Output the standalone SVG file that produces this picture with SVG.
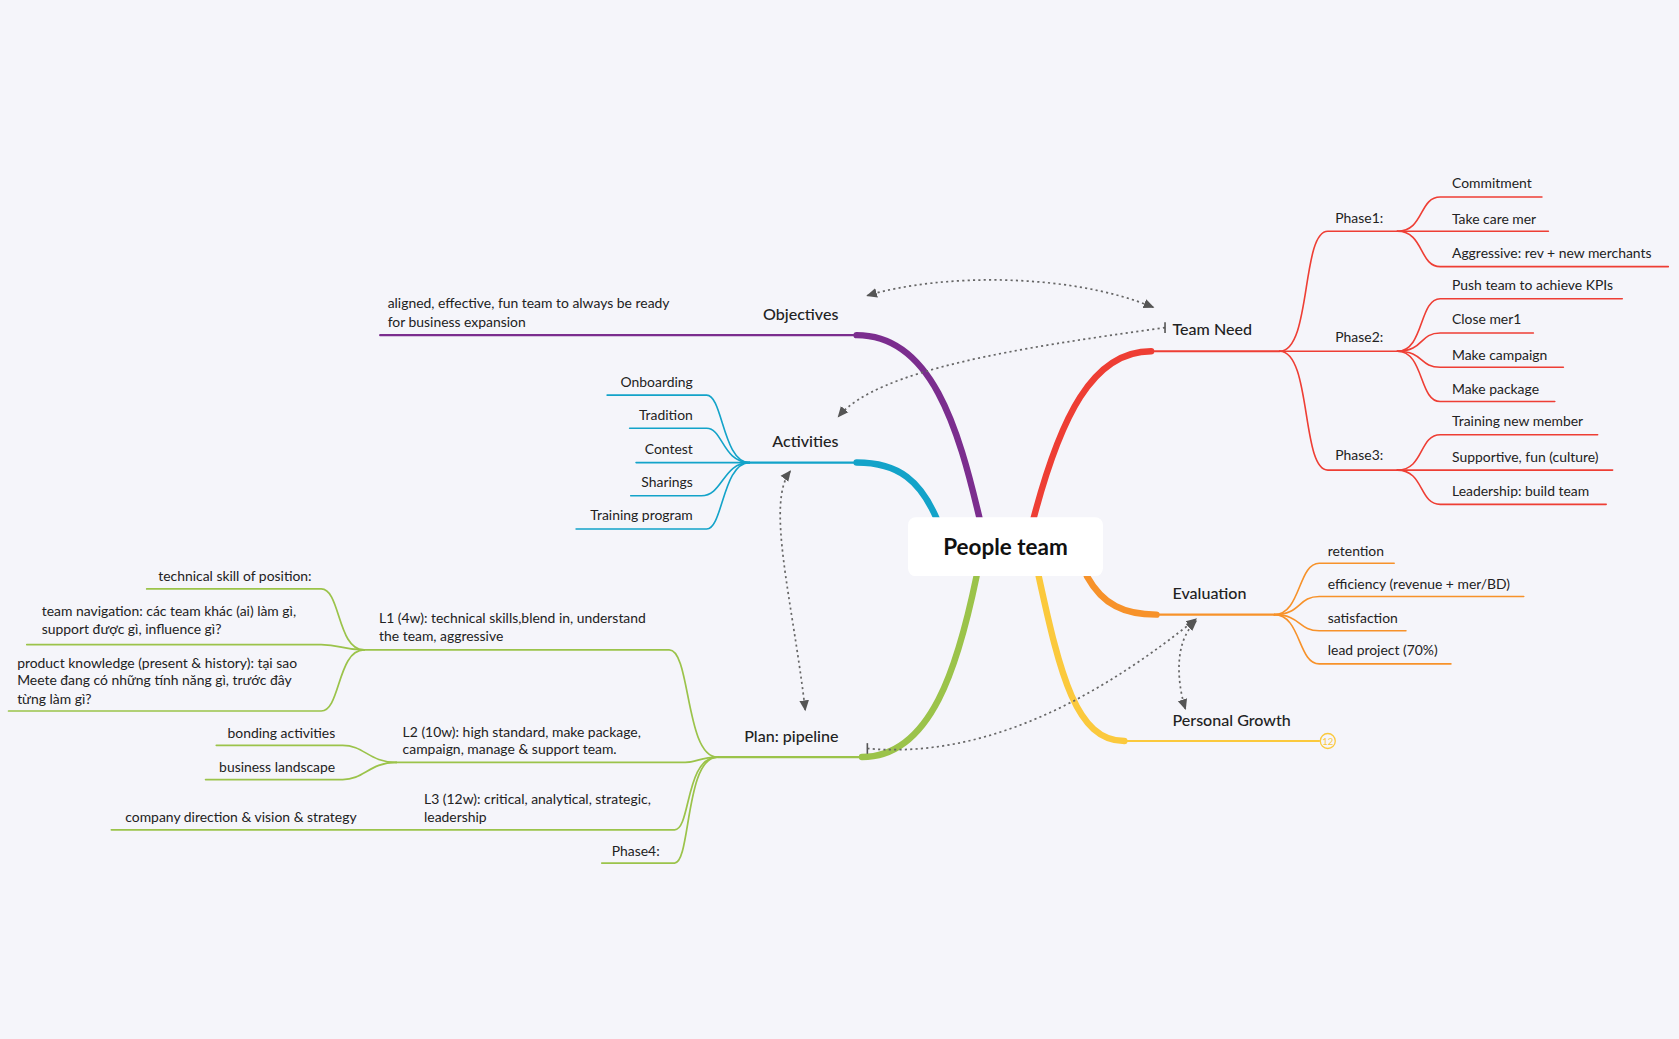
<svg xmlns="http://www.w3.org/2000/svg" width="1679" height="1039" viewBox="0 0 1679 1039">
<defs>
<style>
text{font-family:Lato,"Noto Sans","DejaVu Sans",sans-serif;font-size:13px;fill:#222}
.lbl{font-size:15px;font-weight:500}
.r{text-anchor:end}
.c{stroke-linecap:round;fill:none}
.rel{fill:none;stroke:#666;stroke-width:1.6;stroke-dasharray:2 3}
</style>
<marker id="ah" viewBox="0 0 10 10" refX="8" refY="5" markerWidth="7" markerHeight="7" orient="auto-start-reverse"><path d="M0,1 L9,5 L0,9 z" fill="#555"/></marker>
</defs>
<rect width="1679" height="1039" fill="#f5f5fa"/>
<g transform="scale(1.0708)">
<g id="connectors">
<!-- Objectives -->
<g stroke="#7b2d8e" class="c"><path d="M915,485 C895,400 870,313 800,313" stroke-width="6"/><path d="M800,313 L355,313" stroke-width="2"/></g>
<!-- Activities -->
<g stroke="#13a3c9" class="c"><path d="M875,485 C860,450 840,432 800,432" stroke-width="6"/><path d="M800,432 L700,432" stroke-width="2"/>
<g stroke-width="1.5"><path d="M700,432 C675,432 675,369 660,369 L567,369"/><path d="M700,432 C675,432 675,400 660,400 L588,400"/><path d="M700,432 L594,432"/><path d="M700,432 C675,432 675,463 655,463 L589,463"/><path d="M700,432 C675,432 675,494 660,494 L538,494"/></g></g>
<!-- Plan -->
<g stroke="#9bc34a" class="c"><path d="M912,538 C895,620 870,707 805,707" stroke-width="6"/><path d="M805,707 L670,707" stroke-width="2"/>
<g stroke-width="1.6"><path d="M670,707 C640,707 645,607 625,607 L340,607"/><path d="M670,707 C655,707 650,712 640,712 L370,712"/><path d="M670,707 C640,707 645,775 630,775 L104,775"/><path d="M670,707 C640,707 645,806 630,806 L562,806"/>
<path d="M340,607 C315,607 318,550 300,550 L137,550"/><path d="M340,607 C320,607 318,602 300,602 L25,602"/><path d="M340,607 C315,607 318,664 300,664 L8,664"/>
<path d="M370,712 C345,712 340,696 320,696 L202,696"/><path d="M370,712 C345,712 340,728 320,728 L192,728"/></g></g>
<!-- Team Need -->
<g stroke="#ee3e34" class="c"><path d="M965,485 C990,390 1020,328 1075,328" stroke-width="6"/><path d="M1075,328 L1195,328" stroke-width="2"/>
<g stroke-width="1.5"><path d="M1195,328 C1225,328 1215,216 1240,216 L1305,216"/><path d="M1195,328 L1305,328"/><path d="M1195,328 C1225,328 1215,439 1240,439 L1305,439"/>
<path d="M1305,216 C1330,216 1325,184 1345,184 L1440,184"/><path d="M1305,216 L1446,216"/><path d="M1305,216 C1330,216 1325,249 1345,249 L1558,249"/>
<path d="M1305,328 C1330,328 1325,279 1345,279 L1515,279"/><path d="M1305,328 C1330,328 1325,311 1345,311 L1432,311"/><path d="M1305,328 C1330,328 1325,343 1345,343 L1460,343"/><path d="M1305,328 C1330,328 1325,375 1345,375 L1452,375"/>
<path d="M1305,439 C1330,439 1325,406 1345,406 L1492,406"/><path d="M1305,439 L1506,439"/><path d="M1305,439 C1330,439 1325,471 1345,471 L1500,471"/></g></g>
<!-- Evaluation -->
<g stroke="#f7922a" class="c"><path d="M1015,538 C1030,565 1050,574 1080,574" stroke-width="6"/><path d="M1080,574 L1190,574" stroke-width="2"/>
<g stroke-width="1.5"><path d="M1190,574 C1215,574 1212,526 1232,526 L1302,526"/><path d="M1190,574 C1215,574 1212,557 1232,557 L1423,557"/><path d="M1190,574 C1215,574 1212,589 1232,589 L1313,589"/><path d="M1190,574 C1215,574 1212,620 1232,620 L1355,620"/></g></g>
<!-- Personal Growth -->
<g stroke="#fbc93d" class="c"><path d="M970,538 C990,630 1005,692 1050,692" stroke-width="6"/><path d="M1050,692 L1232,692" stroke-width="2"/></g>
<circle cx="1240" cy="692" r="7" fill="#f5f5fa" stroke="#fbc93d" stroke-width="1.2"/>
<text x="1240" y="695.5" style="font-size:9px;fill:#fbc93d;text-anchor:middle">12</text>
<!-- relationships -->
<path class="rel" d="M810,276 C880,255 1000,255 1077,287" marker-start="url(#ah)" marker-end="url(#ah)"/>
<path class="rel" d="M1088,306 C950,325 820,345 783,389" marker-end="url(#ah)"/>
<path d="M1088,301 L1088,311" stroke="#555" stroke-width="1.5"/>
<path class="rel" d="M738,440 C715,470 740,560 752,663" marker-start="url(#ah)" marker-end="url(#ah)"/>
<path class="rel" d="M810,699 C930,710 1040,640 1117,578" marker-end="url(#ah)"/>
<path d="M810,694 L810,704" stroke="#555" stroke-width="1.5"/>
<path class="rel" d="M1117,580 C1095,600 1100,640 1107,662" marker-start="url(#ah)" marker-end="url(#ah)"/>
</g>
<g id="center"><rect x="848" y="483" width="182" height="55" rx="7" fill="#fff"/><text x="939" y="518" style="font-size:21px;font-weight:700;text-anchor:middle;fill:#111">People team</text></g>
<g id="objectives"><text class="lbl r" x="783" y="299">Objectives</text><text x="362" y="288">aligned, effective, fun team to always be ready</text><text x="362" y="305">for business expansion</text></g>
<g id="activities"><text class="lbl r" x="783" y="417">Activities</text>
<text class="r" x="647" y="361">Onboarding</text><text class="r" x="647" y="392">Tradition</text><text class="r" x="647" y="424">Contest</text><text class="r" x="647" y="455">Sharings</text><text class="r" x="647" y="486">Training program</text></g>
<g id="plan"><text class="lbl r" x="783" y="693">Plan: pipeline</text>
<text x="354" y="582">L1 (4w): technical skills,blend in, understand</text><text x="354" y="599">the team, aggressive</text>
<text x="376" y="688">L2 (10w):  high standard, make package,</text><text x="376" y="704">campaign, manage &amp; support team.</text>
<text x="396" y="751">L3 (12w): critical, analytical, strategic,</text><text x="396" y="768">leadership</text>
<text class="r" x="616" y="799">Phase4:</text>
<text class="r" x="291" y="543">technical skill of position:</text>
<text x="39" y="575">team navigation: các team khác (ai) làm gì,</text><text x="39" y="592">support được gì, influence gì?</text>
<text x="16" y="624">product knowledge (present &amp; history): tại sao</text><text x="16" y="640">Meete đang có những tính năng gì, trước đây</text><text x="16" y="657">từng làm gì?</text>
<text class="r" x="313" y="689">bonding activities</text><text class="r" x="313" y="721">business landscape</text>
<text class="r" x="333" y="768">company direction &amp; vision &amp; strategy</text></g>
<g id="teamneed"><text class="lbl" x="1095" y="313">Team Need</text>
<text x="1247" y="208">Phase1:</text><text x="1247" y="319">Phase2:</text><text x="1247" y="430">Phase3:</text>
<text x="1356" y="176">Commitment</text><text x="1356" y="209">Take care mer</text><text x="1356" y="241">Aggressive: rev + new merchants</text>
<text x="1356" y="271">Push team to achieve KPIs</text><text x="1356" y="303">Close mer1</text><text x="1356" y="336">Make campaign</text><text x="1356" y="368">Make package</text>
<text x="1356" y="398">Training new member</text><text x="1356" y="431">Supportive, fun (culture)</text><text x="1356" y="463">Leadership: build team</text></g>
<g id="evaluation"><text class="lbl" x="1095" y="559">Evaluation</text>
<text x="1240" y="519">retention</text><text x="1240" y="550">efficiency (revenue + mer/BD)</text><text x="1240" y="582">satisfaction</text><text x="1240" y="612">lead project (70%)</text></g>
<g id="growth"><text class="lbl" x="1095" y="678">Personal Growth</text></g>
</g>
</svg>
